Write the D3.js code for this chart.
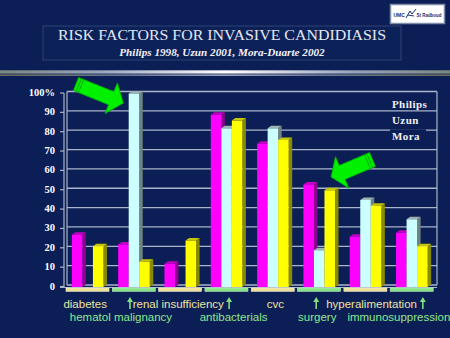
<!DOCTYPE html>
<html><head><meta charset="utf-8">
<script src="https://cdn.jsdelivr.net/npm/d3@7"></script>
<style>html,body{margin:0;padding:0;background:#0b1e55;}svg{display:block;}</style>
</head><body>
<svg id="c" width="450" height="338"></svg>
<script>
// ---------- data ----------
const categories = ["diabetes","hematol malignancy","renal insufficiency","antibacterials","cvc","surgery","hyperalimentation","immunosuppression"];
const series = ["Philips","Uzun","Mora"];
const philips = [27,22,12,89,74,53,26,28];
const uzun    = [null,100,null,82,82,19,45,35];
const mora    = [21,13,24,86,76,50,42,21];
const yTicks  = [0,10,20,30,40,50,60,70,80,90,100];
const title = "RISK FACTORS FOR INVASIVE CANDIDIASIS";
const subtitle = "Philips 1998, Uzun 2001, Mora-Duarte 2002";

// ---------- layout / style ----------
const BG = "#0b1e55";
const face = {Philips:"#ff00ff", Uzun:"#ccffff", Mora:"#ffff00"};
const side = {Philips:"#8e008e", Uzun:"#6f8383", Mora:"#8a8a00"};
const top_ = {Philips:"#c400c4", Uzun:"#9fb2b2", Mora:"#c8c800"};
const DX = 3.5, DY = 2.5;
const labelDx = [-2.5,-13,-2,7,2.5,-2,6,-13];
const arrowDx = {1:-4, 3:2.5, 5:-3, 7:11};

const svg = d3.select("#c");
const defs = svg.append("defs");
const g1 = defs.append("linearGradient").attr("id","bevel");
[["0%","#7a8a7c"],["22%","#9aa4bc"],["50%","#ffffff"],["78%","#9aa4bc"],["100%","#7a8a7c"]]
  .forEach(([o,c])=>g1.append("stop").attr("offset",o).attr("stop-color",c));
const g2 = defs.append("linearGradient").attr("id","olive");
[["0%","#a0a060"],["30%","#b0b4c0"],["50%","#ffffff"],["70%","#b0b4c0"],["100%","#a0a060"]]
  .forEach(([o,c])=>g2.append("stop").attr("offset",o).attr("stop-color",c));

svg.append("rect").attr("width",450).attr("height",338).attr("fill",BG);

// logo
const logo = svg.append("g");
logo.append("rect").attr("x",390.5).attr("y",4.5).attr("width",54).attr("height",19)
  .attr("fill","#ffffff").attr("stroke","#7f8ea8").attr("stroke-width",1.5);
logo.append("text").attr("x",393.5).attr("y",16.5).attr("font-family","Liberation Sans")
  .attr("font-size",5).attr("font-weight","bold").attr("fill","#1a2a70").text("UMC");
logo.append("path").attr("d","M406,18 L410,11 L412,14 L416,9 M408,15 L414,16")
  .attr("stroke","#1a2a70").attr("stroke-width",1).attr("fill","none");
logo.append("text").attr("x",416.5).attr("y",16.5).attr("font-family","Liberation Sans")
  .attr("font-size",4.6).attr("font-weight","bold").attr("fill","#1a2a70")
  .attr("textLength",25).attr("lengthAdjust","spacingAndGlyphs").text("St Radboud");

// title box
svg.append("rect").attr("x",43).attr("y",26).attr("width",358).attr("height",34)
  .attr("fill","#0d2159").attr("stroke","#2b3d72").attr("stroke-width",1.2);
svg.append("text").attr("x",222).attr("y",39.5).attr("text-anchor","middle")
  .attr("font-family","Liberation Serif").attr("font-size",14.2).attr("fill","#e6e8f0")
  .attr("textLength",328).attr("lengthAdjust","spacingAndGlyphs").text(title);
svg.append("text").attr("x",222).attr("y",55.5).attr("text-anchor","middle")
  .attr("font-family","Liberation Serif").attr("font-size",11.2).attr("font-weight","bold")
  .attr("font-style","italic").attr("fill","#f2f2f8").text(subtitle);

// separator
svg.append("rect").attr("x",0).attr("y",70.3).attr("width",450).attr("height",3.3).attr("fill","url(#bevel)");
svg.append("rect").attr("x",0).attr("y",74.6).attr("width",450).attr("height",1).attr("fill","url(#olive)");

// scales
const x = d3.scaleBand().domain(categories).range([64.5,435]);
const groupW = 31.6;
const xs = d3.scaleBand().domain(series).range([0,groupW]);
const y = d3.scaleLinear().domain([0,100]).range([287,93.5]);
const yb = v => y(v) - DY + 0.5;   // back wall

// grid
const grid = svg.append("g");
grid.selectAll("line.g").data(yTicks).join("line")
  .attr("x1",67).attr("x2",437).attr("y1",d=>yb(d)).attr("y2",d=>yb(d))
  .attr("stroke","#aab4cc").attr("stroke-width",1.3);
grid.selectAll("line.t").data(yTicks).join("line")
  .attr("x1",60).attr("x2",64).attr("y1",d=>yb(d)+1.5).attr("y2",d=>yb(d)+1.5)
  .attr("stroke","#aab4cc").attr("stroke-width",1.2);
grid.append("line").attr("x1",64).attr("x2",64).attr("y1",yb(100)+1.5).attr("y2",y(0)+1)
  .attr("stroke","#aab4cc").attr("stroke-width",1.2);
grid.append("line").attr("x1",67).attr("x2",67).attr("y1",yb(100)).attr("y2",yb(0))
  .attr("stroke","#aab4cc").attr("stroke-width",1.2);
grid.append("line").attr("x1",437).attr("x2",437).attr("y1",yb(100)).attr("y2",yb(0))
  .attr("stroke","#aab4cc").attr("stroke-width",1.2);
grid.append("line").attr("x1",60).attr("x2",437).attr("y1",y(0)+0.5).attr("y2",y(0)+0.5)
  .attr("stroke","#aab4cc").attr("stroke-width",1);

// y labels
svg.append("g").selectAll("text").data(yTicks).join("text")
  .attr("x",55).attr("y",d=>y(d)+2.5).attr("text-anchor","end")
  .attr("font-family","Liberation Serif").attr("font-size",10.5).attr("font-weight","bold")
  .attr("fill","#ffffff").text(d=> d===100 ? "100%" : d);

// legend
const lg = svg.append("g");
series.forEach((s,i)=>{
  const cy = 103.5 + i*16.4;
  lg.append("rect").attr("x",390).attr("y",cy-7).attr("width",36).attr("height",13).attr("fill",BG);
  lg.append("text").attr("x",392).attr("y",cy+4).attr("font-family","Liberation Serif")
    .attr("font-size",11).attr("font-weight","bold").attr("letter-spacing",0.4)
    .attr("fill","#f0f0f4").text(s);
});

// floor strips
svg.append("g").selectAll("rect").data(categories).join("rect")
  .attr("x",d=>x(d)+1.5).attr("y",288).attr("width",x.bandwidth()-3.3).attr("height",3.3)
  .attr("fill",(d,i)=> i%2 ? "#86e486" : "#ece19a")
  .attr("stroke",(d,i)=> i%2 ? "#c0f4c0" : "#fbf4c8").attr("stroke-width",0.6);

// bars
const vals = {Philips:philips, Uzun:uzun, Mora:mora};
const barData = [];
categories.forEach((c,i)=>series.forEach(s=>{
  const v = vals[s][i];
  if (v !== null) barData.push({c, s, v});
}));
const bars = svg.append("g").selectAll("g").data(barData).join("g");
bars.each(function(d){
  const gsel = d3.select(this);
  const x0 = x(d.c) + (x.bandwidth()-groupW)/2 + xs(d.s);
  const w = xs.bandwidth();
  const yt = y(d.v), yb0 = y(0);
  gsel.append("path").attr("fill",side[d.s])
    .attr("d",`M${x0+w},${yt} L${x0+w+DX},${yt-DY} L${x0+w+DX},${yb0-DY} L${x0+w},${yb0} Z`);
  gsel.append("path").attr("fill",top_[d.s])
    .attr("d",`M${x0},${yt} L${x0+DX},${yt-DY} L${x0+w+DX},${yt-DY} L${x0+w},${yt} Z`);
  gsel.append("rect").attr("x",x0).attr("y",yt).attr("width",w).attr("height",yb0-yt).attr("fill",face[d.s]);
});

// category labels
svg.append("g").selectAll("text").data(categories).join("text")
  .attr("x",(d,i)=>x(d)+x.bandwidth()/2+labelDx[i])
  .attr("y",(d,i)=> i%2 ? 320.5 : 308)
  .attr("text-anchor","middle").attr("font-family","Liberation Sans").attr("font-size",11.5)
  .attr("fill",(d,i)=> i%2 ? "#8ee88e" : "#eee4a4").text(d=>d);

// small up arrows under green categories
const upIdx = [1,3,5,7];
svg.append("g").selectAll("path").data(upIdx).join("path")
  .attr("transform",i=>`translate(${x(categories[i])+x.bandwidth()/2+arrowDx[i]},297)`)
  .attr("d","M0,0 L-3,5 L-0.8,5 L-0.8,12 L0.8,12 L0.8,5 L3,5 Z")
  .attr("fill","#7ee07e");

// big green arrows
function arrowD(L,sw,hw,hl){
  return `M0,${-sw/2} L${L},${-sw/2} L${L},${-hw/2} L${L+hl},0 L${L},${hw/2} L${L},${sw/2} L0,${sw/2} Z`;
}
const bigArrows = [
  {t:"translate(76,84) rotate(22)", L:38, sw:14, hw:33, hl:13},
  {t:"translate(372.5,159.5) rotate(157)", L:33, sw:15, hw:34, hl:12}
];
const ba = svg.append("g").selectAll("g").data(bigArrows).join("g").attr("transform",d=>d.t);
ba.append("path").attr("d",d=>arrowD(d.L,d.sw,d.hw,d.hl)).attr("fill","#00f000")
  .attr("stroke","#00b400").attr("stroke-width",0.8);
ba.append("line").attr("x1",3).attr("x2",3).attr("y1",d=>-d.sw/2).attr("y2",d=>d.sw/2)
  .attr("stroke","#00a000").attr("stroke-width",0.8);
ba.append("line").attr("x1",5.5).attr("x2",5.5).attr("y1",d=>-d.sw/2).attr("y2",d=>d.sw/2)
  .attr("stroke","#00a000").attr("stroke-width",0.8);
</script>
</body></html>
